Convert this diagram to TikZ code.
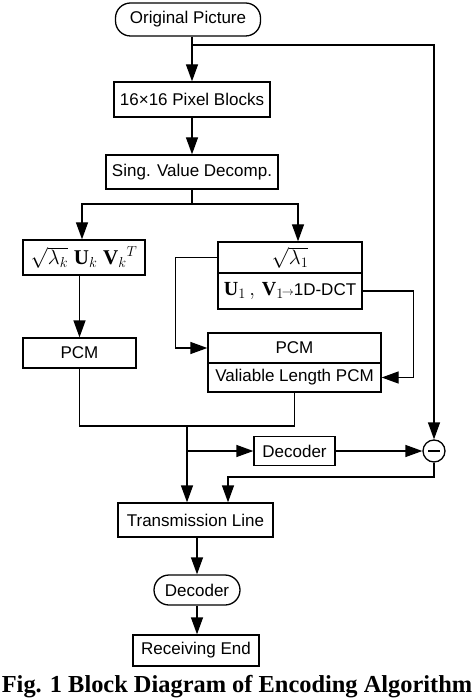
\documentclass[tikz,border=0pt]{standalone}
\usepackage{fontspec}
\setmainfont{Liberation Serif}
\setsansfont{Liberation Sans}
\usetikzlibrary{arrows.meta}
\begin{document}
\begin{tikzpicture}[x=1pt,y=-1pt,
  lbl/.style={font=\sffamily\fontsize{17}{20}\selectfont},
  blk/.style={draw, line width=1.3pt, inner sep=0pt, lbl},
  term/.style={blk, rounded corners=15pt},
  arr/.style={line width=1.3pt, -{Triangle[length=17pt,width=12pt]}},
  ln/.style={line width=1.3pt},
  mathtxt/.style={font=\fontsize{21}{24}\selectfont},
]
\useasboundingbox (0,0) rectangle (474,700);

% nodes
\node[term, minimum width=145pt, minimum height=33pt] (orig) at (188,19.5) {Original Picture};
\node[blk, minimum width=156pt, minimum height=35pt] (b16) at (192,99.5) {16×16 Pixel Blocks};
\node[blk, minimum width=172pt, minimum height=34pt] (svd) at (192,172) {Sing. Value Decomp.};
\node[blk, mathtxt, minimum width=122pt, minimum height=35pt] (lamk) at (84,257.5)
  {$\sqrt{\lambda_k}\;\mathbf{U}_k\;\mathbf{V}_k{}^T$};
\node[blk, mathtxt, minimum width=144pt, minimum height=31pt] (lam1) at (290,257.5) {$\sqrt{\lambda_1}$};
\node[blk, minimum width=144pt, minimum height=36pt] (uv) at (290,291)
  {{\fontsize{20}{22}\selectfont$\mathbf{U}_1\,,\,\mathbf{V}_1$}{\fontsize{13}{13}\selectfont$\!\rightarrow$}1D-DCT};
\node[blk, minimum width=113pt, minimum height=30pt] (pcm1) at (79.5,353) {PCM};
\node[blk, minimum width=173pt, minimum height=30pt] (pcm2) at (294.5,348) {PCM};
\node[blk, minimum width=173pt, minimum height=29pt] (vlp) at (294.5,377.5) {Valiable Length PCM};
\node[blk, minimum width=81pt, minimum height=29pt] (dec1) at (294.5,451) {Decoder};
\node[draw, circle, line width=1.3pt, minimum size=22pt, inner sep=0pt] (sub) at (434,451) {};
\node[blk, minimum width=155pt, minimum height=34pt] (tx) at (195.5,520) {Transmission Line};
\node[term, minimum width=86pt, minimum height=30pt] (dec2) at (197,590) {Decoder};
\node[blk, minimum width=126pt, minimum height=31pt] (rx) at (196,650.5) {Receiving End};
\node[font=\bfseries\fontsize{24.4}{28}\selectfont, anchor=base, inner sep=0pt] (cap) at (237,692)
  {Fig. 1 Block Diagram of Encoding Algorithm};

% minus sign in the circle
\draw[line width=2.4pt] ([xshift=-6pt]sub.center) -- ([xshift=6pt]sub.center);

% helper coordinates
\coordinate (j0) at (192,45);
\coordinate (s0) at (192,204);
\coordinate (mline) at (0,426);
\coordinate (mj) at (187,426);
\coordinate (fb) at (228,477);

% connectors
\draw[arr] (orig.south -| b16.north) -- (b16.north);
\draw[arr] (j0) -| (sub.north);
\draw[arr] (b16.south) -- (svd.north);
\draw[ln] (svd.south) -- (s0);
\draw[arr] (s0) -| ([xshift=-2pt]lamk.north);
\draw[arr] (s0) -| ([xshift=8pt]lam1.north);
\draw[arr] (lamk.south -| pcm1.north) -- (pcm1.north);
\draw[arr] (lam1.west) -- ++(-42,0) |- (pcm2.west);
\draw[arr] (uv.east) -- ++(51,0) |- (vlp.east);
\draw[ln] (pcm1.south) |- (vlp.south |- mline) -- (vlp.south);
\draw[arr] (mj) -- (mj |- tx.north);
\draw[arr] (mj |- dec1.west) -- (dec1.west);
\draw[arr] (dec1.east) -- (sub.west);
\draw[arr] (sub.south) |- (fb) -- (fb |- tx.north);
\draw[arr] (tx.south -| dec2.north) -- (dec2.north);
\draw[arr] (dec2.south) -- (dec2.south |- rx.north);
\end{tikzpicture}
\end{document}
